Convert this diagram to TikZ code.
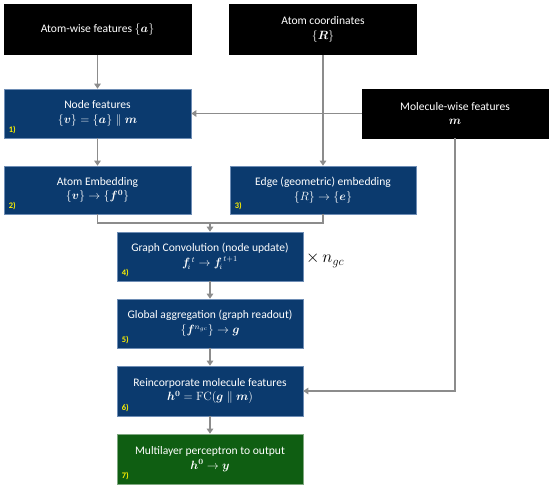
\documentclass[tikz,border=0pt]{standalone}
\usepackage{amsmath,bm}
\usepackage[no-math]{fontspec}
\setmainfont{Carlito}
\usetikzlibrary{arrows.meta,positioning}
\definecolor{navy}{HTML}{0B3A6E}
\definecolor{navyedge}{HTML}{6E8DB5}
\definecolor{dgreen}{HTML}{0F5E12}
\definecolor{gedge}{HTML}{7FA880}
\definecolor{conn}{HTML}{8C8C8C}
\definecolor{lbl}{HTML}{FFF200}
\tikzset{
  base/.style={rectangle, inner sep=0pt, align=center, text=white, font=\fontsize{11.6}{15}\selectfont, line width=0.6bp},
  blackbox/.style={base, fill=black, draw=black, minimum width=187bp, minimum height=50bp},
  bluebox/.style={base, fill=navy, draw=navyedge, minimum width=187bp, minimum height=49bp},
  greenbox/.style={base, fill=dgreen, draw=gedge, minimum width=187bp, minimum height=50bp},
  numlbl/.style={anchor=south west, inner sep=0pt, text=lbl, font=\bfseries\fontsize{8.5}{9}\selectfont},
  conline/.style={draw=conn, line width=1.6bp},
  conarrow/.style={conline, -{Triangle[width=6.5bp,length=5bp]}}
}
\begin{document}
\begin{tikzpicture}[x=1bp,y=-1bp]
\useasboundingbox (0,0) rectangle (550,491);
% input boxes
\node[blackbox] (aw) at (97.5,29.5) {Atom-wise features $\{\bm{a}\}$};
\node[blackbox] (ac) at (323,29.5) {Atom coordinates\\ $\{\bm{R}\}$};
\node[blackbox, minimum width=186bp, minimum height=49bp] (mw) at (455,113.5) {Molecule-wise features\\ $\bm{m}$};
% processing boxes
\node[bluebox] (nf) at (97.5,113.5) {Node features\\ $\{\bm{v}\} = \{\bm{a}\} \parallel \bm{m}$};
\node[bluebox, minimum height=48bp] (ae) at (97.5,190) {Atom Embedding\\ $\{\bm{v}\} \rightarrow \{\bm{f}^{\bm{0}}\}$};
\node[bluebox, minimum width=186bp, minimum height=48bp] (ee) at (323,190) {Edge (geometric) embedding\\ $\{R\} \rightarrow \{\bm{e}\}$};
\node[bluebox, minimum width=186bp] (gc) at (210,256.5) {Graph Convolution (node update)\\ $\bm{f}_{\!i}^{\,t} \rightarrow \bm{f}_{\!i}^{\,t+1}$};
\node[bluebox, minimum width=186bp] (ga) at (210,323.5) {Global aggregation (graph readout)\\ $\{\bm{f}^{n_{gc}}\} \rightarrow \bm{g}$};
\node[bluebox, minimum width=186bp, minimum height=50bp] (rm) at (210,391) {Reincorporate molecule features\\ $\bm{h}^{\bm{0}} = \mathrm{FC}(\bm{g} \parallel \bm{m})$};
\node[greenbox, minimum width=186bp] (mlp) at (210,459) {Multilayer perceptron to output\\ $\bm{h}^{\bm{0}} \rightarrow \bm{y}$};
% step labels
\node[numlbl] (l1) at ([shift={(5,-4)}]nf.south west) {1)};
\node[numlbl] (l2) at ([shift={(5,-4)}]ae.south west) {2)};
\node[numlbl] (l3) at ([shift={(5,-4)}]ee.south west) {3)};
\node[numlbl] (l4) at ([shift={(5,-4)}]gc.south west) {4)};
\node[numlbl] (l5) at ([shift={(5,-4)}]ga.south west) {5)};
\node[numlbl] (l6) at ([shift={(5,-4)}]rm.south west) {6)};
\node[numlbl] (l7) at ([shift={(5,-4)}]mlp.south west) {7)};
% repetition label
\node[anchor=west, inner sep=0pt, font=\fontsize{17}{19}\selectfont] (rep) at (306,260) {$\times\, n_{gc}$};
% connectors
\coordinate (mj) at (210,223);
\draw[conarrow] (aw.south) -- (nf.north);
\draw[conarrow] (ac.south) -- (ee.north);
\draw[conarrow] (mw.west) -- (nf.east);
\draw[conarrow] (nf.south) -- (ae.north);
\draw[conarrow] (mw.south) |- (rm.east);
\draw[conline] (ae.south) |- (mj) -| (ee.south);
\draw[conarrow] (mj) -- (gc.north);
\draw[conarrow] (gc.south) -- (ga.north);
\draw[conarrow] (ga.south) -- (rm.north);
\draw[conarrow] (rm.south) -- (mlp.north);
\end{tikzpicture}
\end{document}
